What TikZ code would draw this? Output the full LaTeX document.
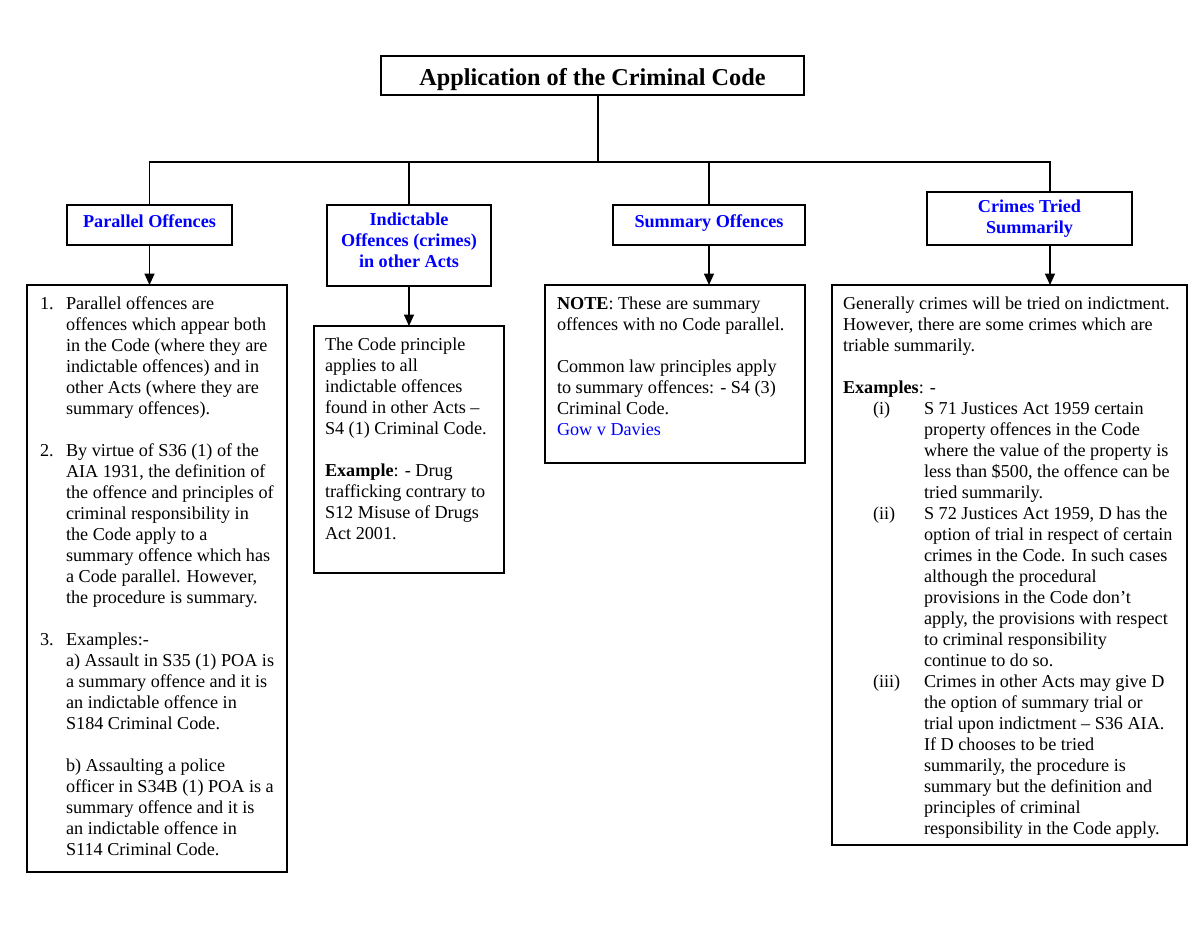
\documentclass[tikz,border=0pt]{standalone}
\usepackage{fontspec}
\setmainfont{Liberation Serif}
\usetikzlibrary{arrows.meta}
\definecolor{hblue}{RGB}{0,0,255}
\begin{document}
\begin{tikzpicture}[x=0.66pt,y=-0.66pt,
  box/.style={draw,line width=1.5pt,inner sep=0pt,outer sep=0pt},
  head/.style={box,align=center,font=\fontsize{12}{13.86}\selectfont\bfseries,text=hblue},
  body/.style={anchor=north west,inner sep=0pt,outer sep=0pt,font=\fontsize{12}{13.86}\selectfont},
  conn/.style={line width=1.1pt},
  arr/.style={conn,-{Triangle[width=6.5pt,length=7.5pt]}}]
\useasboundingbox (0,0) rectangle (1200,927);

% title
\node[box,minimum width=279.2pt,minimum height=25.7pt,text height=13pt,text depth=0pt,font=\fontsize{16}{18}\selectfont\bfseries] (title) at (592.5,75.5) {Application of the Criminal Code};

% headers
\node[head,minimum width=108.9pt,minimum height=26.4pt,text depth=5.3pt] (p1) at (149.5,225) {Parallel Offences};
\node[head,minimum width=108.2pt,minimum height=53.5pt,text depth=7pt] (p2) at (409,245.5) {Indictable\\Offences (crimes)\\in other Acts};
\node[head,minimum width=126.7pt,minimum height=26.4pt,text depth=5.3pt] (p3) at (709,225) {Summary Offences};
\node[head,minimum width=135.3pt,minimum height=35pt] (p4) at (1029.5,218.5) {Crimes Tried\\Summarily};

% content boxes
\node[box,minimum width=171.6pt,minimum height=387.4pt] (b1) at (157,578.5) {};
\node[box,minimum width=125.4pt,minimum height=163pt] (b2) at (409,449.5) {};
\node[box,minimum width=171.6pt,minimum height=117.5pt] (b3) at (675,374) {};
\node[box,minimum width=234.3pt,minimum height=369.6pt] (b4) at (1009.5,565) {};

% connectors
\coordinate (bar) at (598,162);
\coordinate (x4) at (1050,0);
\draw[conn] (title.south -| bar) -- (bar);
\draw[conn] (p1.north) |- (bar);
\draw[conn] (p2.north) |- (bar);
\draw[conn] (p3.north) |- (bar);
\draw[conn] (p4.north -| x4) |- (bar);
\draw[arr] (p1.south) -- (p1.south |- b1.north);
\draw[arr] (p2.south) -- (p2.south |- b2.north);
\draw[arr] (p3.south) -- (p3.south |- b3.north);
\draw[arr] (p4.south -| x4) -- (x4 |- b4.north);

% box texts
\node[body] (t1) at (40,295) {\begin{tabular}{@{}p{17.2pt}@{}l@{}}
1. & Parallel offences are\\
 & offences which appear both\\
 & in the Code (where they are\\
 & indictable offences) and in\\
 & other Acts (where they are\\
 & summary offences).\\
 & \\
2. & By virtue of S36 (1) of the\\
 & AIA 1931, the definition of\\
 & the offence and principles of\\
 & criminal responsibility in\\
 & the Code apply to a\\
 & summary offence which has\\
 & a Code parallel. However,\\
 & the procedure is summary.\\
 & \\
3. & Examples:-\\
 & a) Assault in S35 (1) POA is\\
 & a summary offence and it is\\
 & an indictable offence in\\
 & S184 Criminal Code.\\
 & \\
 & b) Assaulting a police\\
 & officer in S34B (1) POA is a\\
 & summary offence and it is\\
 & an indictable offence in\\
 & S114 Criminal Code.
\end{tabular}};

\node[body] (t2) at (325,336) {\begin{tabular}{@{}l@{}}
The Code principle\\
applies to all\\
indictable offences\\
found in other Acts –\\
S4 (1) Criminal Code.\\
\\
\textbf{Example}: - Drug\\
trafficking contrary to\\
S12 Misuse of Drugs\\
Act 2001.
\end{tabular}};

\node[body] (t3) at (557,295) {\begin{tabular}{@{}l@{}}
\textbf{NOTE}: These are summary\\
offences with no Code parallel.\\
\\
Common law principles apply\\
to summary offences: - S4 (3)\\
Criminal Code.\\
\textcolor{hblue}{Gow v Davies}
\end{tabular}};

\node[body] (t4) at (843,295) {\begin{tabular}{@{}p{19.8pt}@{}p{33.7pt}@{}l@{}}
\multicolumn{3}{@{}l@{}}{Generally crimes will be tried on indictment.}\\
\multicolumn{3}{@{}l@{}}{However, there are some crimes which are}\\
\multicolumn{3}{@{}l@{}}{triable summarily.}\\
 & & \\
\multicolumn{3}{@{}l@{}}{\textbf{Examples}: -}\\
 & (i) & S 71 Justices Act 1959 certain\\
 & & property offences in the Code\\
 & & where the value of the property is\\
 & & less than \$500, the offence can be\\
 & & tried summarily.\\
 & (ii) & S 72 Justices Act 1959, D has the\\
 & & option of trial in respect of certain\\
 & & crimes in the Code. In such cases\\
 & & although the procedural\\
 & & provisions in the Code don’t\\
 & & apply, the provisions with respect\\
 & & to criminal responsibility\\
 & & continue to do so.\\
 & (iii) & Crimes in other Acts may give D\\
 & & the option of summary trial or\\
 & & trial upon indictment – S36 AIA.\\
 & & If D chooses to be tried\\
 & & summarily, the procedure is\\
 & & summary but the definition and\\
 & & principles of criminal\\
 & & responsibility in the Code apply.
\end{tabular}};
\end{tikzpicture}
\end{document}
